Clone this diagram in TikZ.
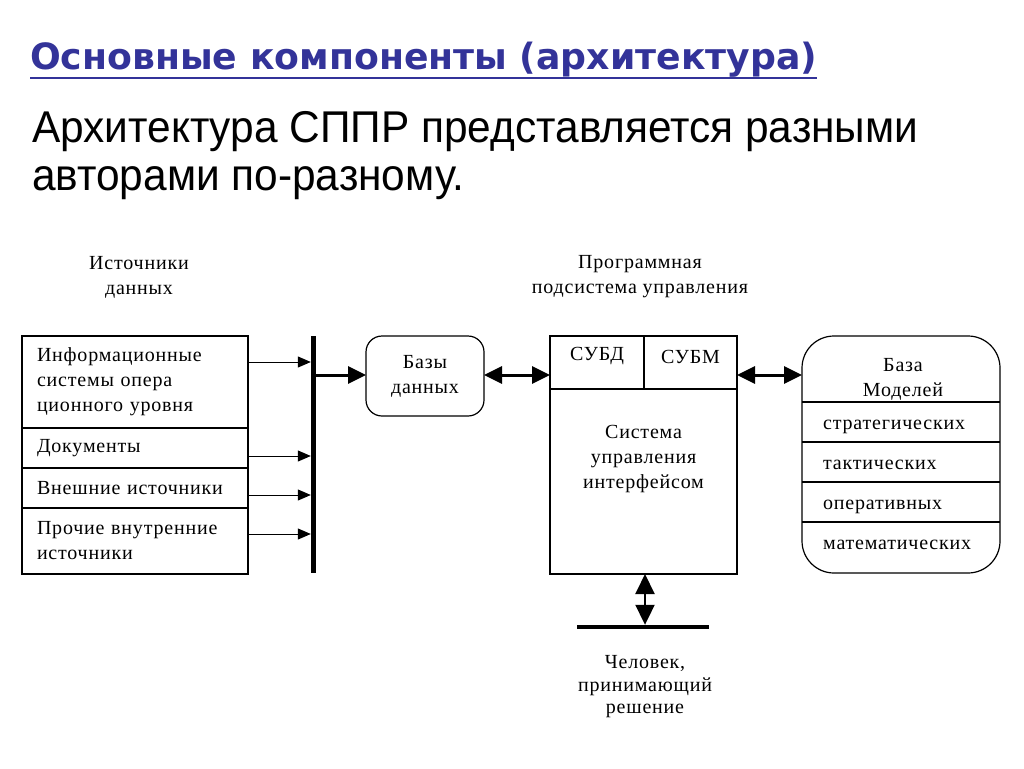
\documentclass[tikz,border=0pt]{standalone}
\usepackage{fontspec}
\setmainfont[LetterSpace=4]{Liberation Serif}
\newfontfamily\titlefont{DejaVu Sans}
\newfontfamily\subfont[FakeStretch=0.953]{Liberation Sans}
\usetikzlibrary{arrows.meta,calc}
\definecolor{titleblue}{RGB}{51,51,153}
\tikzset{
  cell/.style={draw, line width=1.2pt, outer sep=0pt, minimum width=226pt, inner xsep=15pt, inner ysep=0pt, anchor=north west, align=left, text width=196pt},
  lbl/.style={font=\fontsize{20}{25}\selectfont, align=center, inner sep=0pt},
  thinarrow/.style={line width=1pt, -{Triangle[length=13pt,width=11pt]}},
  thickarrow/.style={line width=3pt, {Triangle[length=18pt,width=17pt]}-{Triangle[length=18pt,width=17pt]}},
  onearrow/.style={line width=3pt, -{Triangle[length=18pt,width=17pt]}},
  box/.style={draw, line width=1.2pt, inner sep=0pt, outer sep=0pt, anchor=north west},
}
\begin{document}
\begin{tikzpicture}[x=1pt,y=-1pt]
\useasboundingbox[fill=white] (0,0) rectangle (1024,768);

% title
\node[anchor=base west, inner sep=0pt, text=titleblue, font=\titlefont\bfseries\fontsize{36.2}{40}\selectfont] (title) at (30,70) {Основные компоненты (архитектура)};
\draw[titleblue, line width=2.5pt] ([yshift=-8pt]title.base west) -- ([yshift=-8pt]title.base east);

% subtitle
\node[anchor=base west, inner sep=0pt, font=\subfont\fontsize{44.5}{48}\selectfont] (sub1) at (32,142) {Архитектура СППР представляется разными};
\node[anchor=base west, inner sep=0pt, font=\subfont\fontsize{44.5}{48}\selectfont] (sub2) at (32,190) {авторами по-разному.};

% header labels
\node[lbl] (hsrc) at (139,277) {Источники\\данных};
\node[lbl] (hsys) at (640,277) {Программная\\подсистема управления};

% left source box
\node[cell, minimum height=92pt, font=\fontsize{20}{25}\selectfont] (r1) at (22,336) {Информационные\\системы опера\\ционного уровня};
\node[cell, minimum height=40pt, font=\fontsize{20}{25}\selectfont] (r2) at (r1.south west) {Документы};
\node[cell, minimum height=40pt, font=\fontsize{20}{25}\selectfont] (r3) at (r2.south west) {Внешние источники};
\node[cell, minimum height=66pt, font=\fontsize{20}{25}\selectfont] (r4) at (r3.south west) {Прочие внутренние\\источники};

% bus bar
\node[fill=black, minimum width=5pt, minimum height=237pt, inner sep=0pt, anchor=north] (bar) at (313.5,336) {};

\draw[thinarrow] (r1.east |- 0,362) -- (bar.west |- 0,362);
\draw[thinarrow] (r2.east |- 0,456) -- (bar.west |- 0,456);
\draw[thinarrow] (r3.east |- 0,495) -- (bar.west |- 0,495);
\draw[thinarrow] (r4.east |- 0,534) -- (bar.west |- 0,534);

% databases
\node[box, rounded corners=16pt, minimum width=118pt, minimum height=80pt] (db) at (366,336) {};
\node[lbl] (dbt) at (db.center) {Базы\\данных};
\draw[onearrow] (bar.east |- 0,375) -- (db.west |- 0,375);

% control subsystem
\node[box, minimum width=94pt, minimum height=53pt] (subd) at (550,336) {};
\node[box, minimum width=93pt, minimum height=53pt] (subm) at (subd.north east) {};
\node[box, minimum width=187pt, minimum height=185pt] (sui) at (subd.south west) {};
\node[lbl] at ([yshift=6pt]subd.center) {СУБД};
\node[lbl] at ([yshift=6pt]subm.center) {СУБМ};
\node[lbl, anchor=north] (suit) at ([yshift=-36pt]sui.north) {Система\\управления\\интерфейсом};

\draw[thickarrow] (db.east |- 0,375) -- (subd.west |- 0,375);

% model base
\node[box, rounded corners=32pt, minimum width=198pt, minimum height=237pt] (mb) at (802,336) {};
\node[lbl] (mbt) at (903,379) {База\\Моделей};
\node[anchor=north west, minimum width=198pt, minimum height=40pt, inner sep=0pt, outer sep=0pt] (m1) at (802,402) {};
\node[anchor=north west, minimum width=198pt, minimum height=40pt, inner sep=0pt, outer sep=0pt] (m2) at (m1.south west) {};
\node[anchor=north west, minimum width=198pt, minimum height=40pt, inner sep=0pt, outer sep=0pt] (m3) at (m2.south west) {};
\node[anchor=north west, minimum width=198pt, minimum height=40pt, inner sep=0pt, outer sep=0pt] (m4) at (m3.south west) {};
\foreach \m in {m1,m2,m3,m4} \draw[line width=1.2pt] (\m.north west) -- (\m.north east);
\node[lbl, anchor=base west] at ([xshift=21pt,yshift=-7pt]m1.west) {стратегических};
\node[lbl, anchor=base west] at ([xshift=21pt,yshift=-7pt]m2.west) {тактических};
\node[lbl, anchor=base west] at ([xshift=21pt,yshift=-7pt]m3.west) {оперативных};
\node[lbl, anchor=base west] at ([xshift=21pt,yshift=-7pt]m4.west) {математических};

\draw[thickarrow] (subm.east |- 0,375) -- (mb.west |- 0,375);

% human
\node[fill=black, minimum width=132pt, minimum height=4pt, inner sep=0pt] (hbar) at (643,627) {};
\draw[line width=2pt, {Triangle[length=20pt,width=19pt]}-{Triangle[length=20pt,width=19pt]}] (sui.south -| 645,0) -- (hbar.north -| 645,0);
\node[lbl, font=\fontsize{20}{22.5}\selectfont] (human) at (645,687) {Человек,\\принимающий\\решение};
\end{tikzpicture}
\end{document}
